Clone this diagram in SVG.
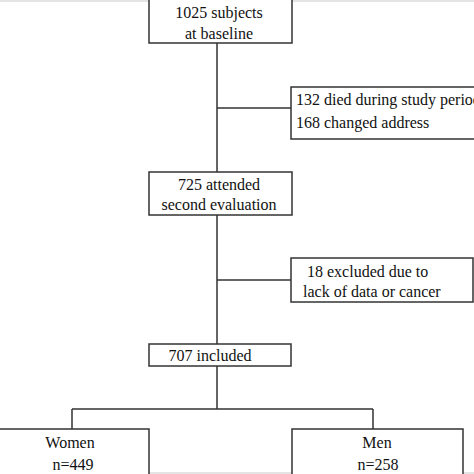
<svg xmlns="http://www.w3.org/2000/svg" width="474" height="474" viewBox="0 0 474 474">
<style>
.box{fill:#fff;stroke:#333;stroke-width:1.5}
.ln{fill:none;stroke:#333;stroke-width:1.5}
text{font-family:"Liberation Serif","Times New Roman",serif;font-size:16px;fill:#111}
.c{text-anchor:middle}
</style>
<rect x="0" y="0" width="474" height="474" fill="#fff"/>
<rect x="0" y="0" width="474" height="2" fill="#e4e4e4"/>
<rect x="0" y="472" width="474" height="2" fill="#e4e4e4"/>
<g id="connectors">
<path class="ln" d="M217 43V172M217 108H291M217 215V344M217 280H291M217 366V409M72 409H373M72 409V429M373 409V429"/>
</g>
<g id="n1"><rect class="box" x="149" y="-2" width="143" height="45"/>
<text class="c" x="219" y="18">1025 subjects</text><text class="c" x="219" y="39">at baseline</text></g>
<g id="n2"><rect class="box" x="291" y="87" width="190" height="52"/>
<text x="296" y="105">132 died during study period</text><text x="296" y="128">168 changed address</text></g>
<g id="n3"><rect class="box" x="149" y="172" width="143" height="43"/>
<text class="c" x="219" y="190">725 attended</text><text class="c" x="219" y="210">second evaluation</text></g>
<g id="n4"><rect class="box" x="291" y="258" width="182" height="44"/>
<text x="307" y="277">18 excluded due to</text><text x="303" y="297">lack of data or cancer</text></g>
<g id="n5"><rect class="box" x="149" y="344" width="142" height="22"/>
<text class="c" x="210" y="361">707 included</text></g>
<g id="n6"><rect class="box" x="-2" y="429" width="151" height="60"/>
<text class="c" x="70" y="448">Women</text><text class="c" x="73" y="470">n=449</text></g>
<g id="n7"><rect class="box" x="292" y="429" width="171" height="60"/>
<text class="c" x="377" y="448">Men</text><text class="c" x="378" y="470">n=258</text></g>
</svg>
